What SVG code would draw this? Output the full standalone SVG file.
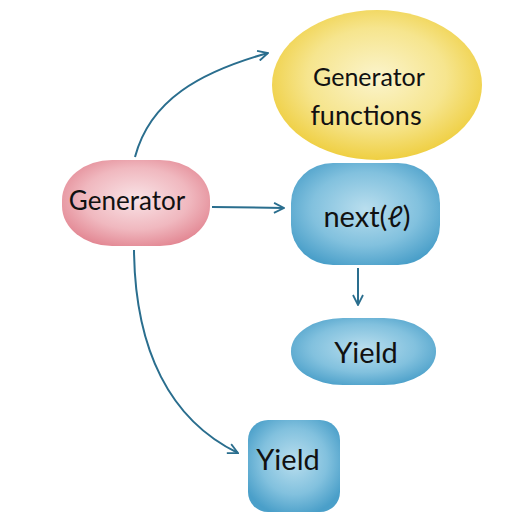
<svg xmlns="http://www.w3.org/2000/svg" width="512" height="512" viewBox="0 0 512 512">
<defs>
<radialGradient id="gPink" cx="50%" cy="45%" r="60%"><stop offset="0" stop-color="#f9e3e6"/><stop offset="0.6" stop-color="#f0b8bf"/><stop offset="1" stop-color="#e28591"/></radialGradient>
<radialGradient id="gYellow" cx="50%" cy="45%" r="55%"><stop offset="0" stop-color="#fbf4cc"/><stop offset="0.6" stop-color="#f6e58e"/><stop offset="1" stop-color="#efcf42"/></radialGradient>
<radialGradient id="gBlue" cx="50%" cy="45%" r="60%"><stop offset="0" stop-color="#b9deee"/><stop offset="0.6" stop-color="#82c1de"/><stop offset="1" stop-color="#4a9fc9"/></radialGradient>
<marker id="arr" viewBox="0 0 12 12" refX="11" refY="6" markerWidth="12" markerHeight="12" markerUnits="userSpaceOnUse" orient="auto"><path d="M1,1 L11,6 L1,11" fill="none" stroke="#2a6e8e" stroke-width="1.8"/></marker>
<style>
.t{font-family:Lato,"Noto Sans",sans-serif;fill:#111;text-anchor:middle}
.c{fill:none;stroke:#2a6e8e;stroke-width:2;marker-end:url(#arr)}
</style>
</defs>
<rect width="512" height="512" fill="#ffffff"/>
<g id="connectors">
<path class="c" d="M135,157 C150,100 200,72 268,53"/>
<path class="c" d="M212,207 L284,208"/>
<path class="c" d="M358,268 L358,305"/>
<path class="c" d="M134,250 C135,350 170,420 238,453"/>
</g>
<g id="generator">
<rect x="62" y="160" width="148" height="86" rx="50" ry="40" fill="url(#gPink)"/>
<text class="t" x="127" y="210" font-size="26">Generator</text>
</g>
<g id="generator-functions">
<ellipse cx="377" cy="85" rx="105" ry="75" fill="url(#gYellow)"/>
<text class="t" x="369" y="86" font-size="25">Generator</text>
<text class="t" x="366" y="125" font-size="27">functions</text>
</g>
<g id="next">
<rect x="291" y="163" width="149" height="102" rx="42" ry="40" fill="url(#gBlue)"/>
<text class="t" x="367" y="227" font-size="29">next(ℓ)</text>
</g>
<g id="yield-right">
<rect x="291" y="318" width="145" height="67" rx="52" ry="33" fill="url(#gBlue)"/>
<text class="t" x="366" y="363" font-size="29">Yield</text>
</g>
<g id="yield-bottom">
<rect x="248" y="420" width="92" height="92" rx="20" ry="20" fill="url(#gBlue)"/>
<text class="t" x="288" y="470" font-size="29">Yield</text>
</g>
</svg>
